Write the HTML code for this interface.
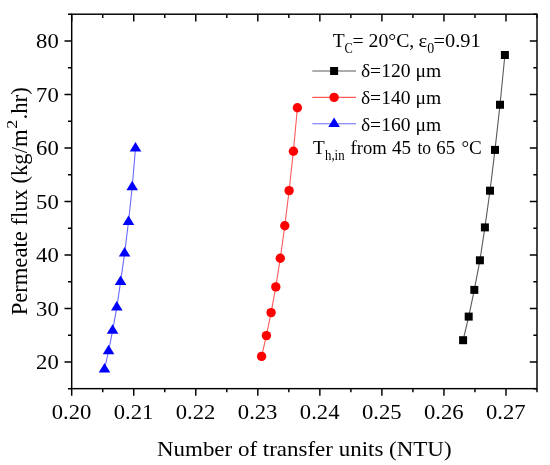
<!DOCTYPE html><html><head><meta charset="utf-8"><style>html,body{margin:0;padding:0;background:#fff}svg{display:block}text{font-family:"Liberation Serif",serif;fill:#000;white-space:pre}</style></head><body>
<svg width="550" height="465" viewBox="0 0 550 465">
<rect width="550" height="465" fill="#fff"/>
<rect x="71.7" y="14.2" width="465.3" height="374.45" fill="none" stroke="#000" stroke-width="1.45"/>
<path d="M71.70 388.65v7.2 M71.70 14.2v7.2 M102.72 388.65v3.7 M102.72 14.2v3.7 M133.74 388.65v7.2 M133.74 14.2v7.2 M164.76 388.65v3.7 M164.76 14.2v3.7 M195.78 388.65v7.2 M195.78 14.2v7.2 M226.80 388.65v3.7 M226.80 14.2v3.7 M257.82 388.65v7.2 M257.82 14.2v7.2 M288.84 388.65v3.7 M288.84 14.2v3.7 M319.86 388.65v7.2 M319.86 14.2v7.2 M350.88 388.65v3.7 M350.88 14.2v3.7 M381.90 388.65v7.2 M381.90 14.2v7.2 M412.92 388.65v3.7 M412.92 14.2v3.7 M443.94 388.65v7.2 M443.94 14.2v7.2 M474.96 388.65v3.7 M474.96 14.2v3.7 M505.98 388.65v7.2 M505.98 14.2v7.2 M537.00 388.65v3.7 M537.00 14.2v3.7 M71.7 388.65h-3.7 M537.0 388.65h-3.7 M71.7 361.90h-7.2 M537.0 361.90h-7.2 M71.7 335.16h-3.7 M537.0 335.16h-3.7 M71.7 308.41h-7.2 M537.0 308.41h-7.2 M71.7 281.66h-3.7 M537.0 281.66h-3.7 M71.7 254.92h-7.2 M537.0 254.92h-7.2 M71.7 228.17h-3.7 M537.0 228.17h-3.7 M71.7 201.42h-7.2 M537.0 201.42h-7.2 M71.7 174.68h-3.7 M537.0 174.68h-3.7 M71.7 147.93h-7.2 M537.0 147.93h-7.2 M71.7 121.19h-3.7 M537.0 121.19h-3.7 M71.7 94.44h-7.2 M537.0 94.44h-7.2 M71.7 67.69h-3.7 M537.0 67.69h-3.7 M71.7 40.95h-7.2 M537.0 40.95h-7.2 M71.7 14.20h-3.7 M537.0 14.20h-3.7" stroke="#000" stroke-width="1.45" fill="none"/>
<text transform="translate(156.94,455.80) scale(1.1100,1)" font-size="20.7">Number of transfer units (NTU)</text>
<text transform="translate(332.69,46.80) scale(1.0283,1)" font-size="19.0">T</text>
<text transform="translate(344.51,52.60) scale(0.8777,1)" font-size="14.2">C</text>
<text transform="translate(352.47,46.80) scale(1.0399,1)" font-size="19.0">= 20°C,</text>
<text transform="translate(418.56,46.80) scale(1.0807,1)" font-size="19.0">ε</text>
<text transform="translate(427.16,52.60) scale(0.9819,1)" font-size="14.2">0</text>
<text transform="translate(433.55,46.80) scale(1.0715,1)" font-size="19.0">=0.91</text>
<text transform="translate(360.89,77.10) scale(1.0304,1)" font-size="19.0">δ=120 μm</text>
<text transform="translate(360.89,103.80) scale(1.0304,1)" font-size="19.0">δ=140 μm</text>
<text transform="translate(360.89,130.50) scale(1.0304,1)" font-size="19.0">δ=160 μm</text>
<text transform="translate(312.90,154.30) scale(1.0105,1)" font-size="19.0">T</text>
<text transform="translate(325.00,159.50) scale(0.9034,1)" font-size="14.2">h,in</text>
<text transform="translate(350.51,154.30) scale(0.9807,1)" font-size="19.0">from</text>
<text transform="translate(392.00,154.30) scale(1.0050,1)" font-size="19.0">45</text>
<text transform="translate(417.40,154.30) scale(0.9235,1)" font-size="19.0">to</text>
<text transform="translate(436.21,154.30) scale(0.9937,1)" font-size="19.0">65</text>
<text transform="translate(461.40,154.30) scale(1.0063,1)" font-size="19.0">°C</text>
<text transform="translate(71.50,419.20) scale(1.095,1)" font-size="20.7" text-anchor="middle">0.20</text>
<text transform="translate(133.54,419.20) scale(1.095,1)" font-size="20.7" text-anchor="middle">0.21</text>
<text transform="translate(195.58,419.20) scale(1.095,1)" font-size="20.7" text-anchor="middle">0.22</text>
<text transform="translate(257.62,419.20) scale(1.095,1)" font-size="20.7" text-anchor="middle">0.23</text>
<text transform="translate(319.66,419.20) scale(1.095,1)" font-size="20.7" text-anchor="middle">0.24</text>
<text transform="translate(381.70,419.20) scale(1.095,1)" font-size="20.7" text-anchor="middle">0.25</text>
<text transform="translate(443.74,419.20) scale(1.095,1)" font-size="20.7" text-anchor="middle">0.26</text>
<text transform="translate(505.78,419.20) scale(1.095,1)" font-size="20.7" text-anchor="middle">0.27</text>
<text transform="translate(58.70,369.20) scale(1.095,1)" font-size="20.7" text-anchor="end">20</text>
<text transform="translate(58.70,315.71) scale(1.095,1)" font-size="20.7" text-anchor="end">30</text>
<text transform="translate(58.70,262.22) scale(1.095,1)" font-size="20.7" text-anchor="end">40</text>
<text transform="translate(58.70,208.72) scale(1.095,1)" font-size="20.7" text-anchor="end">50</text>
<text transform="translate(58.70,155.23) scale(1.095,1)" font-size="20.7" text-anchor="end">60</text>
<text transform="translate(58.70,101.74) scale(1.095,1)" font-size="20.7" text-anchor="end">70</text>
<text transform="translate(58.70,48.25) scale(1.095,1)" font-size="20.7" text-anchor="end">80</text>
<text transform="translate(26.80,315.35) rotate(-90) scale(1.0098,1)" font-size="22.4">Permeate flux (kg/m</text>
<text transform="translate(16.70,128.76) rotate(-90) scale(1.1852,1)" font-size="15.2">2</text>
<text transform="translate(26.80,119.53) rotate(-90) scale(1.0200,1)" font-size="22.4">.hr)</text>
<polyline points="135.5,148.3 132.2,187.0 128.5,221.7 124.6,253.4 120.6,281.7 116.8,307.4 112.6,330.6 108.6,351.0 104.5,369.2" fill="none" stroke="#6a6aff" stroke-width="1.1"/>
<path d="M135.5 142.0L141.3 151.5H129.7Z" fill="#0000ff"/>
<path d="M132.2 180.7L138.0 190.2H126.39999999999999Z" fill="#0000ff"/>
<path d="M128.5 215.39999999999998L134.3 224.89999999999998H122.7Z" fill="#0000ff"/>
<path d="M124.6 247.1L130.4 256.6H118.8Z" fill="#0000ff"/>
<path d="M120.6 275.4L126.39999999999999 284.9H114.8Z" fill="#0000ff"/>
<path d="M116.8 301.09999999999997L122.6 310.59999999999997H111.0Z" fill="#0000ff"/>
<path d="M112.6 324.3L118.39999999999999 333.8H106.8Z" fill="#0000ff"/>
<path d="M108.6 344.7L114.39999999999999 354.2H102.8Z" fill="#0000ff"/>
<path d="M104.5 362.9L110.3 372.4H98.7Z" fill="#0000ff"/>
<polyline points="297.4,107.8 293.4,151.3 289.1,190.6 284.8,225.8 280.3,258.2 275.8,286.9 271.1,312.6 266.4,335.6 261.6,356.4" fill="none" stroke="#ff5a5a" stroke-width="1.1"/>
<circle cx="297.4" cy="107.8" r="4.7" fill="#ff0000"/>
<circle cx="293.4" cy="151.3" r="4.7" fill="#ff0000"/>
<circle cx="289.1" cy="190.6" r="4.7" fill="#ff0000"/>
<circle cx="284.8" cy="225.8" r="4.7" fill="#ff0000"/>
<circle cx="280.3" cy="258.2" r="4.7" fill="#ff0000"/>
<circle cx="275.8" cy="286.9" r="4.7" fill="#ff0000"/>
<circle cx="271.1" cy="312.6" r="4.7" fill="#ff0000"/>
<circle cx="266.4" cy="335.6" r="4.7" fill="#ff0000"/>
<circle cx="261.6" cy="356.4" r="4.7" fill="#ff0000"/>
<polyline points="504.9,55.0 500.0,104.75 495.0,149.9 490.0,190.7 484.9,227.4 479.9,260.3 474.3,289.9 468.7,316.6 463.1,340.2" fill="none" stroke="#5a5a5a" stroke-width="1.1"/>
<rect x="500.9" y="51.0" width="8" height="8" fill="#000"/>
<rect x="496.0" y="100.75" width="8" height="8" fill="#000"/>
<rect x="491.0" y="145.9" width="8" height="8" fill="#000"/>
<rect x="486.0" y="186.7" width="8" height="8" fill="#000"/>
<rect x="480.9" y="223.4" width="8" height="8" fill="#000"/>
<rect x="475.9" y="256.3" width="8" height="8" fill="#000"/>
<rect x="470.3" y="285.9" width="8" height="8" fill="#000"/>
<rect x="464.7" y="312.6" width="8" height="8" fill="#000"/>
<rect x="459.1" y="336.2" width="8" height="8" fill="#000"/>
<path d="M312.3 71.0H356" stroke="#5a5a5a" stroke-width="1.1" fill="none"/>
<rect x="330.1" y="67.0" width="8" height="8" fill="#000"/>
<path d="M312.3 97.4H356" stroke="#ff5a5a" stroke-width="1.1" fill="none"/>
<circle cx="334.1" cy="97.4" r="4.7" fill="#ff0000"/>
<path d="M312.3 123.8H356" stroke="#6a6aff" stroke-width="1.1" fill="none"/>
<path d="M334.1 117.5L339.90000000000003 127.0H328.3Z" fill="#0000ff"/>
</svg></body></html>
